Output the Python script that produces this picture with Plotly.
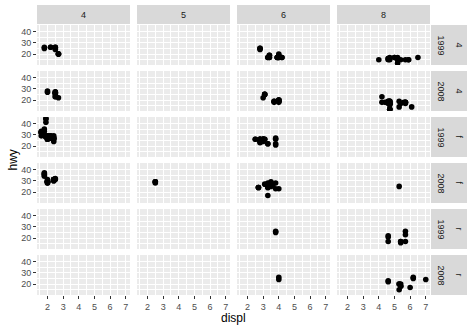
import plotly.graph_objects as go

# ---------------- data (mpg: displ, year, cyl, drv, hwy) ----------------
displ = [
    1.8, 1.8, 2.0, 2.0, 2.8, 2.8, 3.1, 1.8, 1.8, 2.0, 2.0, 2.8, 2.8, 3.1, 3.1, 2.8, 3.1, 4.2,
    5.3, 5.3, 5.3, 5.7, 6.0, 5.7, 5.7, 6.2, 6.2, 7.0, 5.3, 5.3, 5.7, 6.5, 2.4, 2.4, 3.1, 3.5, 3.6,
    2.4, 3.0, 3.3, 3.3, 3.3, 3.3, 3.3, 3.8, 3.8, 3.8, 4.0, 3.7, 3.7, 3.9, 3.9, 4.7, 4.7, 4.7, 5.2, 5.2,
    3.9, 4.7, 4.7, 4.7, 5.2, 5.7, 5.9, 4.7, 4.7, 4.7, 4.7, 4.7, 5.2, 5.2, 5.7, 5.9,
    4.6, 5.4, 5.4, 4.0, 4.0, 4.0, 4.0, 4.6, 5.0, 4.2, 4.2, 4.6, 4.6, 4.6, 5.4, 5.4, 3.8, 3.8, 4.0, 4.0, 4.6, 4.6, 4.6, 4.6, 5.4,
    1.6, 1.6, 1.6, 1.6, 1.6, 1.8, 1.8, 1.8, 2.0,
    2.4, 2.4, 2.4, 2.4, 2.5, 2.5, 3.3, 2.0, 2.0, 2.0, 2.0, 2.7, 2.7, 2.7,
    3.0, 3.7, 4.0, 4.7, 4.7, 4.7, 5.7, 6.1,
    4.0, 4.2, 4.4, 4.6,
    5.4, 5.4, 5.4,
    4.0, 4.0, 4.6, 5.0,
    2.4, 2.4, 2.5, 2.5, 3.5, 3.5, 3.0, 3.0, 3.5, 3.3, 3.3, 4.0, 5.6,
    3.1, 3.8, 3.8, 3.8, 5.3,
    2.5, 2.5, 2.5, 2.5, 2.5, 2.5, 2.2, 2.2, 2.5, 2.5, 2.5, 2.5, 2.5, 2.5,
    2.7, 2.7, 3.4, 3.4, 4.0, 4.7, 2.2, 2.2, 2.4, 2.4, 3.0, 3.0, 3.5, 2.2, 2.2, 2.4, 2.4, 3.0, 3.0, 3.3,
    1.8, 1.8, 1.8, 1.8, 1.8, 4.7, 5.7, 2.7, 2.7, 2.7, 3.4, 3.4, 4.0, 4.0,
    2.0, 2.0, 2.0, 2.0, 2.8, 1.9, 2.0, 2.0, 2.0, 2.0, 2.5, 2.5, 2.8, 2.8,
    1.9, 1.9, 2.0, 2.0, 2.5, 2.5, 1.8, 1.8, 2.0, 2.0, 2.8, 2.8, 3.6,
]
year = [
    1999, 1999, 2008, 2008, 1999, 1999, 2008, 1999, 1999, 2008, 2008, 1999, 1999, 2008, 2008, 1999, 2008, 2008,
    2008, 2008, 2008, 1999, 2008, 1999, 1999, 2008, 2008, 2008, 2008, 2008, 1999, 1999, 1999, 2008, 1999, 2008, 2008,
    1999, 1999, 1999, 1999, 2008, 2008, 2008, 1999, 1999, 2008, 2008, 2008, 2008, 1999, 1999, 2008, 2008, 2008, 1999, 1999,
    1999, 2008, 2008, 2008, 1999, 2008, 1999, 2008, 2008, 2008, 2008, 2008, 1999, 1999, 2008, 1999,
    1999, 1999, 2008, 1999, 1999, 1999, 2008, 2008, 1999, 1999, 1999, 1999, 1999, 2008, 1999, 2008, 1999, 1999, 2008, 2008, 1999, 1999, 2008, 2008, 2008,
    1999, 1999, 1999, 1999, 1999, 2008, 2008, 2008, 2008,
    1999, 1999, 2008, 2008, 1999, 1999, 2008, 1999, 1999, 2008, 2008, 2008, 2008, 2008,
    2008, 2008, 1999, 1999, 2008, 2008, 2008, 2008,
    1999, 2008, 2008, 1999,
    1999, 1999, 2008,
    1999, 2008, 2008, 1999,
    1999, 1999, 2008, 2008, 2008, 2008, 1999, 1999, 2008, 1999, 1999, 2008, 2008,
    1999, 1999, 1999, 2008, 2008,
    1999, 1999, 2008, 2008, 2008, 2008, 1999, 1999, 1999, 1999, 2008, 2008, 2008, 2008,
    1999, 1999, 1999, 1999, 2008, 2008, 1999, 1999, 2008, 2008, 1999, 1999, 2008, 1999, 1999, 2008, 2008, 1999, 1999, 2008,
    1999, 1999, 1999, 2008, 2008, 1999, 2008, 1999, 1999, 2008, 1999, 1999, 2008, 2008,
    1999, 1999, 2008, 2008, 1999, 1999, 1999, 1999, 2008, 2008, 2008, 2008, 1999, 1999,
    1999, 1999, 1999, 1999, 2008, 2008, 1999, 1999, 2008, 2008, 1999, 1999, 2008,
]
cyl = [
    4, 4, 4, 4, 6, 6, 6, 4, 4, 4, 4, 6, 6, 6, 6, 6, 6, 8,
    8, 8, 8, 8, 8, 8, 8, 8, 8, 8, 8, 8, 8, 8, 4, 4, 6, 6, 6,
    4, 6, 6, 6, 6, 6, 6, 6, 6, 6, 6, 6, 6, 6, 6, 8, 8, 8, 8, 8,
    6, 8, 8, 8, 8, 8, 8, 8, 8, 8, 8, 8, 8, 8, 8, 8,
    8, 8, 8, 6, 6, 6, 6, 8, 8, 6, 6, 8, 8, 8, 8, 8, 6, 6, 6, 6, 8, 8, 8, 8, 8,
    4, 4, 4, 4, 4, 4, 4, 4, 4,
    4, 4, 4, 4, 6, 6, 6, 4, 4, 4, 4, 6, 6, 6,
    6, 6, 6, 8, 8, 8, 8, 8,
    8, 8, 8, 8,
    8, 8, 8,
    6, 6, 8, 8,
    4, 4, 4, 4, 6, 6, 6, 6, 6, 6, 6, 6, 8,
    6, 6, 6, 6, 8,
    4, 4, 4, 4, 4, 4, 4, 4, 4, 4, 4, 4, 4, 4,
    4, 4, 6, 6, 6, 8, 4, 4, 4, 4, 6, 6, 6, 4, 4, 4, 4, 6, 6, 6,
    4, 4, 4, 4, 4, 8, 8, 4, 4, 4, 6, 6, 6, 6,
    4, 4, 4, 4, 6, 4, 4, 4, 4, 4, 5, 5, 6, 6,
    4, 4, 4, 4, 5, 5, 4, 4, 4, 4, 6, 6, 6,
]
drv = list(
    "f" * 7 + "4" * 11
    + "r" * 10 + "4" * 4 + "f" * 5
    + "f" * 11 + "4" * 25
    + "r" * 3 + "4" * 13 + "r" * 9
    + "f" * 9
    + "f" * 14
    + "4" * 8
    + "4" * 4
    + "r" * 3
    + "4" * 4
    + "f" * 9 + "4" * 4
    + "f" * 5
    + "4" * 14
    + "4" * 6 + "f" * 19 + "4" * 9
    + "f" * 27
)
hwy = [
    29, 29, 31, 30, 26, 26, 27, 26, 25, 28, 27, 25, 25, 25, 25, 24, 25, 23,
    20, 15, 20, 17, 17, 26, 23, 26, 25, 24, 19, 14, 15, 17, 27, 30, 26, 29, 26,
    24, 24, 22, 22, 24, 24, 17, 22, 21, 23, 23, 19, 18, 17, 17, 19, 19, 12, 17, 15,
    17, 17, 12, 17, 16, 18, 15, 16, 12, 17, 17, 16, 12, 15, 17, 15,
    17, 17, 18, 17, 19, 17, 19, 19, 17, 17, 17, 16, 16, 17, 15, 17, 26, 25, 26, 24, 21, 22, 23, 22, 20,
    33, 32, 32, 29, 32, 34, 36, 36, 29,
    26, 27, 30, 31, 26, 26, 28, 26, 29, 28, 29, 24, 24, 24,
    22, 19, 20, 17, 12, 19, 18, 14,
    15, 18, 18, 15,
    17, 16, 18,
    17, 19, 19, 17,
    29, 27, 31, 32, 27, 26, 26, 25, 25, 17, 17, 20, 18,
    26, 26, 27, 28, 25,
    25, 24, 27, 25, 26, 23, 26, 26, 26, 26, 27, 23, 27, 26,
    20, 20, 19, 17, 20, 17, 29, 27, 31, 31, 26, 26, 28, 27, 29, 31, 31, 26, 26, 27,
    30, 33, 35, 37, 35, 15, 18, 20, 20, 22, 17, 19, 18, 20,
    29, 26, 29, 29, 24, 44, 29, 26, 29, 29, 29, 29, 23, 24,
    44, 41, 29, 26, 28, 29, 29, 29, 28, 29, 26, 26, 26,
]

col_levels = [4, 5, 6, 8]
row_drv = ["4", "4", "f", "f", "r", "r"]
row_year = [1999, 2008, 1999, 2008, 1999, 2008]
x_ticks = [2, 3, 4, 5, 6, 7]
x_minor = [1.5, 2.5, 3.5, 4.5, 5.5, 6.5]
y_ticks = [20, 30, 40]
y_minor = [15, 25, 35, 45]
x_range = [1.33, 7.27]
y_range = [10.4, 45.6]

# ---------------- layout geometry (pixels) ----------------
W, H = 474, 331
col_left = [37, 137, 237, 337]
col_w = 93
row_top = [25, 71, 117, 163, 209, 255]
row_h = 40
FONT = "Liberation Sans, Arial, sans-serif"

def px(x):
    return x / W

def py(y):
    return 1 - y / H

fig = go.Figure()
layout = {}
shapes = []
annotations = []

n = min(len(displ), len(year), len(cyl), len(drv), len(hwy))
for r in range(6):
    for c in range(4):
        k = r * 4 + c + 1
        xs, ys = [], []
        for i in range(n):
            if cyl[i] == col_levels[c] and drv[i] == row_drv[r] and year[i] == row_year[r]:
                xs.append(displ[i])
                ys.append(hwy[i])
        fig.add_trace(go.Scatter(
            x=xs, y=ys, mode="markers",
            marker=dict(color="black", size=5.6, line=dict(width=0)),
            xaxis=f"x{k}", yaxis=f"y{k}", showlegend=False, hoverinfo="skip",
        ))
        bottom = r == 5
        left = c == 0
        layout[f"xaxis{k}"] = dict(
            domain=[px(col_left[c]), px(col_left[c] + col_w)],
            anchor=f"y{k}", range=x_range, tickmode="array", tickvals=x_ticks,
            showgrid=True, gridcolor="white", gridwidth=1.1, zeroline=False, showline=False,
            minor=dict(tickvals=x_minor, showgrid=True, gridcolor="white", gridwidth=0.55),
            ticks="outside" if bottom else "", ticklen=3, tickwidth=1, tickcolor="#333333",
            showticklabels=bottom, tickfont=dict(family=FONT, size=9, color="#4D4D4D"),
            fixedrange=True,
        )
        layout[f"yaxis{k}"] = dict(
            domain=[py(row_top[r] + row_h), py(row_top[r])],
            anchor=f"x{k}", range=y_range, tickmode="array", tickvals=y_ticks,
            showgrid=True, gridcolor="white", gridwidth=1.1, zeroline=False, showline=False,
            minor=dict(tickvals=y_minor, showgrid=True, gridcolor="white", gridwidth=0.55),
            ticks="outside" if left else "", ticklen=3, tickwidth=1, tickcolor="#333333",
            showticklabels=left, tickfont=dict(family=FONT, size=9, color="#4D4D4D"),
            fixedrange=True,
        )

# top strips
for c in range(4):
    shapes.append(dict(type="rect", xref="paper", yref="paper",
                       x0=px(col_left[c]), x1=px(col_left[c] + col_w),
                       y0=py(24), y1=py(5), fillcolor="#D9D9D9", line=dict(width=0), layer="below"))
    annotations.append(dict(text=str(col_levels[c]), xref="paper", yref="paper",
                            x=px(col_left[c] + col_w / 2), y=py(14.5), showarrow=False,
                            xanchor="center", yanchor="middle",
                            font=dict(family=FONT, size=9, color="#1A1A1A")))
# right strips
for r in range(6):
    shapes.append(dict(type="rect", xref="paper", yref="paper",
                       x0=px(431), x1=px(467),
                       y0=py(row_top[r] + row_h), y1=py(row_top[r]),
                       fillcolor="#D9D9D9", line=dict(width=0), layer="below"))
    cy = py(row_top[r] + row_h / 2)
    annotations.append(dict(text=str(row_year[r]), xref="paper", yref="paper",
                            x=px(440.5), y=cy, showarrow=False, textangle=90,
                            xanchor="center", yanchor="middle",
                            font=dict(family=FONT, size=9, color="#1A1A1A")))
    annotations.append(dict(text=row_drv[r], xref="paper", yref="paper",
                            x=px(458.5), y=cy, showarrow=False, textangle=90,
                            xanchor="center", yanchor="middle",
                            font=dict(family=FONT, size=9, color="#1A1A1A")))

# axis titles
annotations.append(dict(text="displ", xref="paper", yref="paper",
                        x=px((col_left[0] + col_left[3] + col_w) / 2), y=py(318),
                        showarrow=False, xanchor="center", yanchor="middle",
                        font=dict(family=FONT, size=12, color="black")))
annotations.append(dict(text="hwy", xref="paper", yref="paper",
                        x=px(12.5), y=py((row_top[0] + row_top[5] + row_h) / 2),
                        showarrow=False, xanchor="center", yanchor="middle", textangle=-90,
                        font=dict(family=FONT, size=12, color="black")))

fig.update_layout(
    width=W, height=H, margin=dict(l=0, r=0, t=0, b=0, pad=0),
    paper_bgcolor="white", plot_bgcolor="#EBEBEB", showlegend=False,
    shapes=shapes, annotations=annotations, **layout,
)
fig.write_html("out.html")
